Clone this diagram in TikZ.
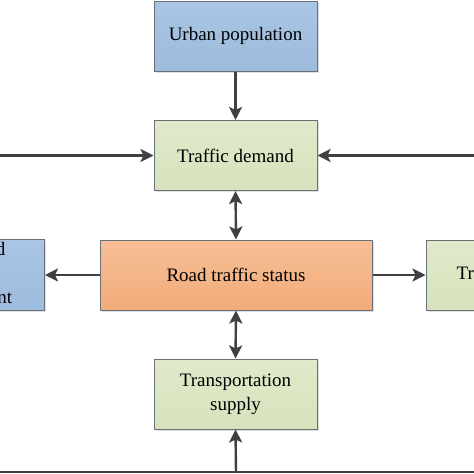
\documentclass[tikz,border=0pt]{standalone}
\usepackage{fontspec}
\setmainfont{Liberation Serif}
\usepackage{tikz}
\usetikzlibrary{arrows, arrows.meta, shapes, positioning, shadows}
\usepackage[x11names, svgnames, rgb]{xcolor}

\definecolor{popblue}{RGB}{157,187,221}
\definecolor{popbluetop}{RGB}{170,197,229}
\definecolor{demgreen}{RGB}{214,226,188}
\definecolor{demgreentop}{RGB}{224,234,203}
\definecolor{statorange}{RGB}{242,172,122}
\definecolor{statorangetop}{RGB}{246,190,150}
\definecolor{boxline}{RGB}{105,112,120}
\definecolor{arrowgray}{RGB}{64,64,64}

\begin{document}
\begin{tikzpicture}[
			x=1pt, y=-1pt,
			every node/.style={
					draw=boxline,
					line width=1pt,
					align=center,
					font=\fontsize{19}{24}\selectfont,
					minimum width=163pt,
					minimum height=70pt,
					drop shadow={opacity=0.25, shadow xshift=1.5pt, shadow yshift=-1.5pt}
				},
			bluebox/.style={top color=popbluetop, bottom color=popblue},
			greenbox/.style={top color=demgreentop, bottom color=demgreen},
			orangebox/.style={top color=statorangetop, bottom color=statorange},
			link/.style={-{Stealth[length=13pt, width=13pt, inset=3pt]}, line width=2.4pt, draw=arrowgray, fill=arrowgray},
			twoway/.style={{Stealth[length=13pt, width=13pt, inset=3pt]}-{Stealth[length=13pt, width=13pt, inset=3pt]}, line width=2.4pt, draw=arrowgray, fill=arrowgray}
		]
		\useasboundingbox (0, 0) rectangle (474, 474);

		\node[bluebox] (pop) at (235.5, 36) {Urban population};
		\node[greenbox] (demand) at (235.5, 155.5) {Traffic demand};
		\node[orangebox, minimum width=272pt] (status) at (236, 275) {Road traffic status};
		\node[greenbox] (supply) at (235.5, 394) {Transportation\\supply};
		\node[bluebox] (landuse) at (-37, 275) {Urban land\\use and\\development};
		\node[greenbox] (safety) at (507.5, 275) {Traffic safety};

		% free ends at the picture border
		\coordinate (inleft) at (0, 155.5);
		\coordinate (inright) at (474, 155.5);
		\coordinate (botleft) at (0, 472);
		\coordinate (botright) at (474, 472);
		\coordinate (botmid) at (236, 472);

		\draw[link] (pop.south) -- (demand.north);
		\draw[link] (inleft) -- (demand.west);
		\draw[link] (inright) -- (demand.east);
		\draw[twoway] (demand.south) -- (status.north);
		\draw[twoway] (status.south) -- (supply.north);
		\draw[link] (status.west) -- (landuse.east);
		\draw[link] (status.east) -- (safety.west);
		\draw[line width=2.4pt, draw=arrowgray] (botleft) -- (botright);
		\draw[link] (botmid) -- (supply.south);

	\end{tikzpicture}
\end{document}
